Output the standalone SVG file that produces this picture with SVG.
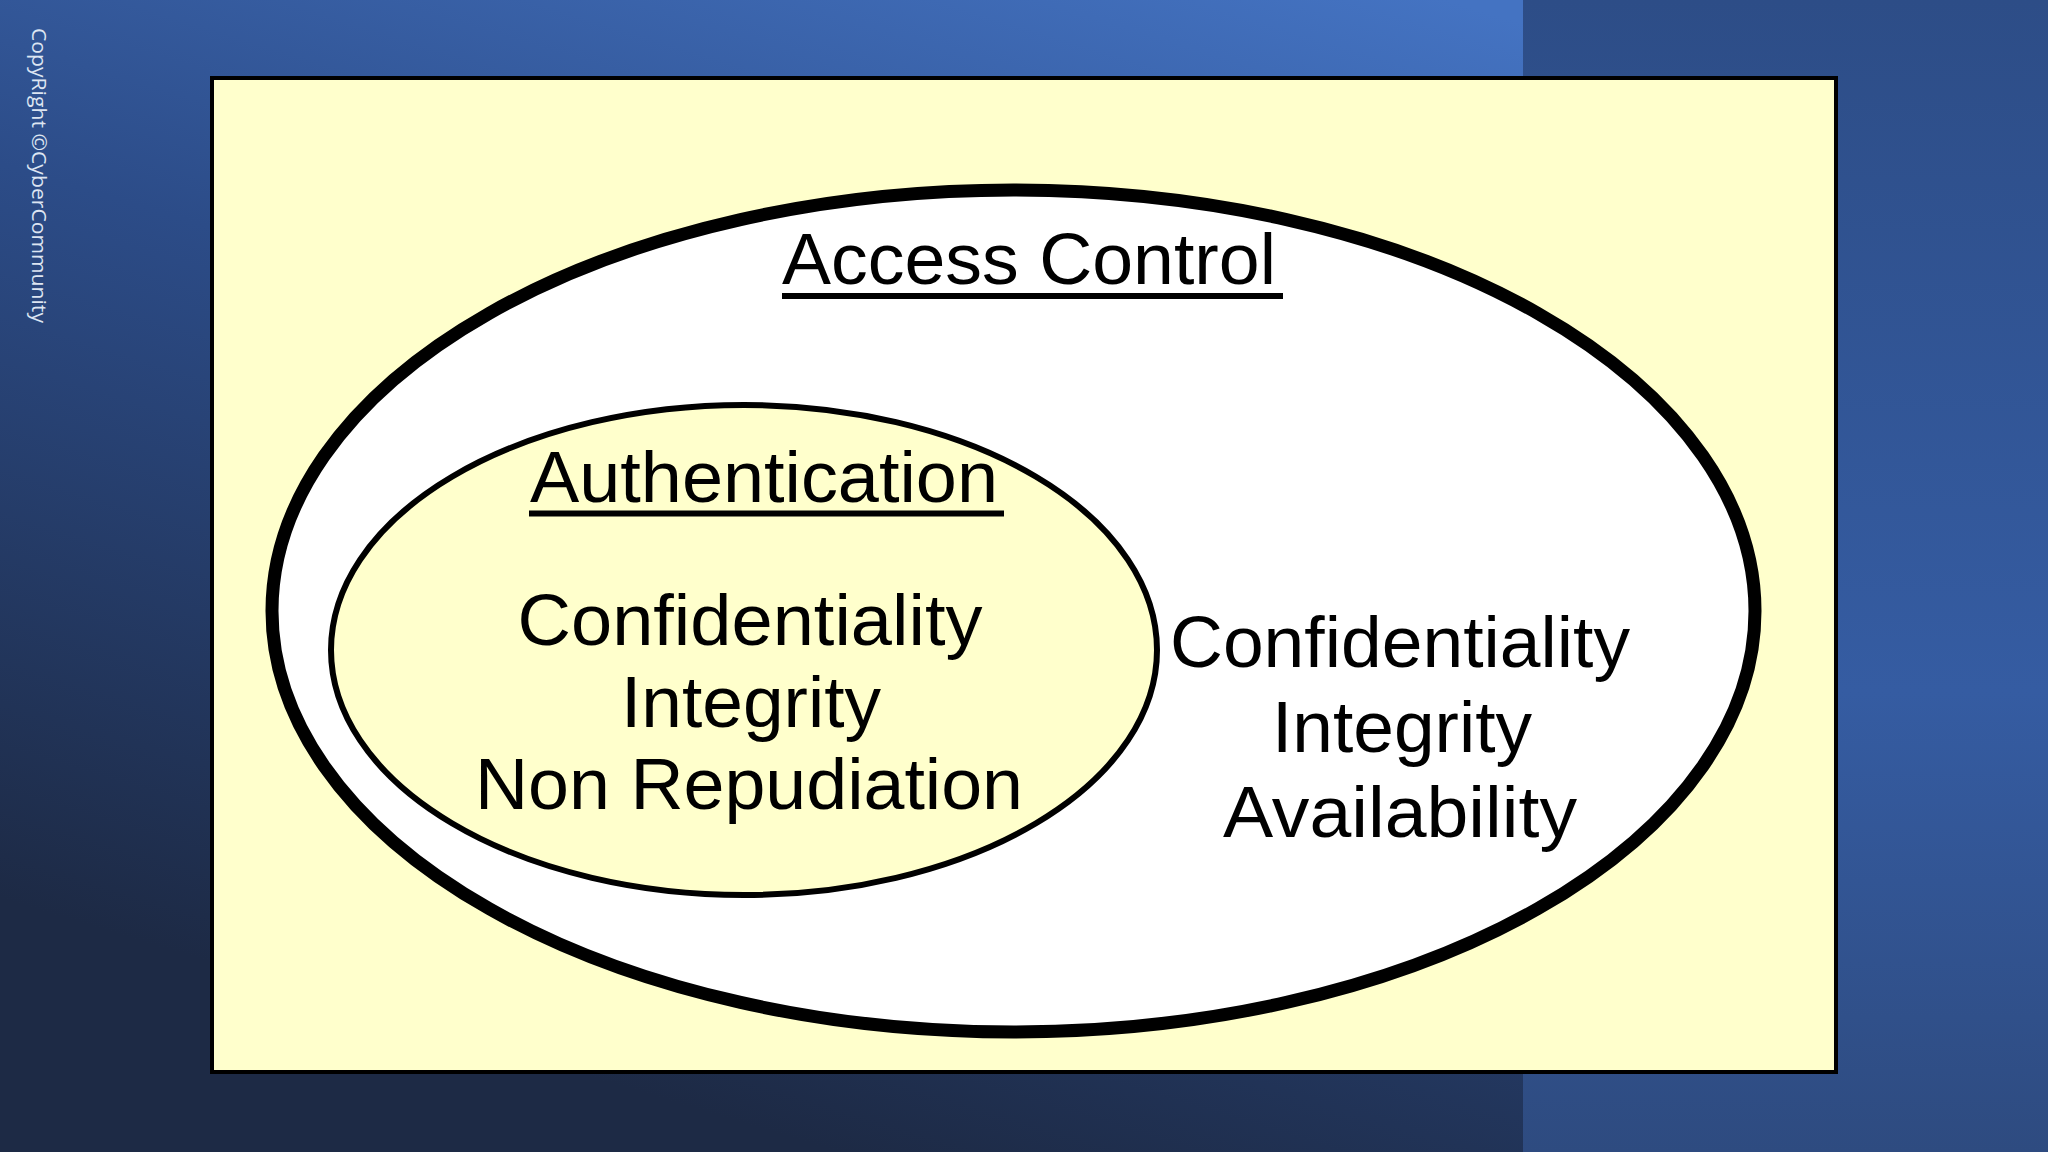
<svg xmlns="http://www.w3.org/2000/svg" width="2048" height="1152" viewBox="0 0 2048 1152">
<defs>
<linearGradient id="bgL" x1="0.95" y1="0" x2="0.55" y2="1">
<stop offset="0" stop-color="#4473c2"/>
<stop offset="0.45" stop-color="#2c4c88"/>
<stop offset="1" stop-color="#1d2a45"/>
</linearGradient>
<linearGradient id="bgR" x1="0" y1="0" x2="0" y2="1">
<stop offset="0" stop-color="#2d4d87"/>
<stop offset="0.6" stop-color="#355ca2"/>
<stop offset="1" stop-color="#2e4b80"/>
</linearGradient>
<style>
.t{font-family:"Liberation Sans",Arial,sans-serif;font-size:73px;fill:#000;text-anchor:middle}
.ul{fill:#000}
</style>
</defs>
<rect x="0" y="0" width="1523" height="1152" fill="url(#bgL)"/>
<rect x="1523" y="0" width="525" height="1152" fill="url(#bgR)"/>
<text transform="translate(32,28) rotate(90)" x="0" y="0" font-family="'Open Sans',sans-serif" font-size="20" fill="#dde5f2" textLength="295" lengthAdjust="spacingAndGlyphs">CopyRight ©CyberCommunity</text>
<g id="frame">
<rect x="212" y="78" width="1624" height="994" fill="#ffffcc" stroke="#000" stroke-width="4"/>
</g>
<g id="access-control">
<ellipse cx="1013.5" cy="611" rx="741.5" ry="421" fill="#ffffff" stroke="#000" stroke-width="13"/>
<text class="t" x="1029" y="284" textLength="494" lengthAdjust="spacingAndGlyphs">Access Control</text>
<rect class="ul" x="782" y="293" width="501" height="6"/>
<text class="t" x="1400" y="667" textLength="460" lengthAdjust="spacingAndGlyphs">Confidentiality</text>
<text class="t" x="1402" y="752" textLength="260" lengthAdjust="spacingAndGlyphs">Integrity</text>
<text class="t" x="1400" y="837" textLength="354" lengthAdjust="spacingAndGlyphs">Availability</text>
</g>
<g id="authentication">
<ellipse cx="744" cy="650" rx="413" ry="245" fill="#ffffcc" stroke="#000" stroke-width="6"/>
<text class="t" x="764" y="502" textLength="468" lengthAdjust="spacingAndGlyphs">Authentication</text>
<rect class="ul" x="529" y="510.5" width="475" height="6"/>
<text class="t" x="750" y="645" textLength="465" lengthAdjust="spacingAndGlyphs">Confidentiality</text>
<text class="t" x="751" y="727" textLength="260" lengthAdjust="spacingAndGlyphs">Integrity</text>
<text class="t" x="749" y="809" textLength="548" lengthAdjust="spacingAndGlyphs">Non Repudiation</text>
</g>
<g id="connectors"></g>
</svg>
